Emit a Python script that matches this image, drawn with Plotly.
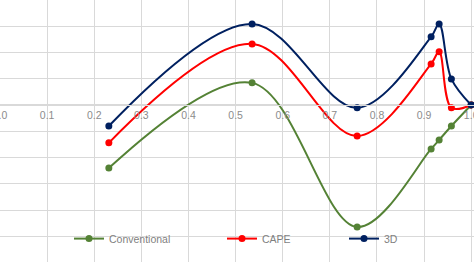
import plotly.graph_objects as go

x_vals = [0.231, 0.535, 0.758, 0.915, 0.932, 0.958, 1.0]
conventional = [-2.40, 0.84, -4.64, -1.67, -1.33, -0.80, 0.0]
cape = [-1.44, 2.32, -1.18, 1.56, 2.02, -0.11, 0.0]
three_d = [-0.80, 3.08, -0.11, 2.59, 3.08, 0.99, 0.0]
x_ticks = [0.0, 0.1, 0.2, 0.3, 0.4, 0.5, 0.6, 0.7, 0.8, 0.9, 1.0]
x_tick_text = ["0.0", "0.1", "0.2", "0.3", "0.4", "0.5", "0.6", "0.7", "0.8", "0.9", "1.0"]

series = [
    ("Conventional", conventional, "#548235", "legend"),
    ("CAPE", cape, "#ff0000", "legend2"),
    ("3D", three_d, "#002060", "legend3"),
]

fig = go.Figure()
for name, ys, color, lg in series:
    fig.add_trace(go.Scatter(
        x=x_vals, y=ys, name=name, mode="lines+markers",
        line=dict(color=color, width=2, shape="spline", smoothing=1.0),
        marker=dict(color=color, size=7),
        legend=lg,
    ))

y_lo, y_hi = -5.97, 3.99
zero_pos = (0 - y_lo) / (y_hi - y_lo)
grid = "#d9d9d9"
lfont = dict(family="Liberation Sans, Arial, sans-serif", size=10.5, color="#7f7f7f")

ly = (-5.08 - y_lo) / (y_hi - y_lo)
legend_style = dict(y=ly, xanchor="left", yanchor="middle", bgcolor="rgba(0,0,0,0)", font=lfont)
fig.update_layout(
    width=474, height=262,
    margin=dict(l=0, r=0, t=0, b=0, autoexpand=False),
    paper_bgcolor="white", plot_bgcolor="white",
    showlegend=True,
    legend=dict(x=(74 - 5) / 474, **legend_style),
    legend2=dict(x=(227 - 5) / 474, **legend_style),
    legend3=dict(x=(349 - 5) / 474, **legend_style),
    xaxis=dict(
        range=[0.0, 1.006], tickvals=x_ticks, ticktext=x_tick_text,
        showgrid=True, gridcolor=grid, gridwidth=1,
        anchor="free", position=zero_pos, automargin=False,
        showline=True, linecolor=grid, linewidth=1,
        ticks="", ticklabeloverflow="allow",
        tickfont=dict(family="Liberation Sans, Arial, sans-serif", size=10.5, color="#8c8c8c"),
        zeroline=False,
    ),
    yaxis=dict(
        range=[y_lo, y_hi], dtick=1, tick0=0, automargin=False,
        showgrid=True, gridcolor=grid, gridwidth=1,
        showticklabels=False, zeroline=False, ticks="",
    ),
)

fig.write_html("out.html")
